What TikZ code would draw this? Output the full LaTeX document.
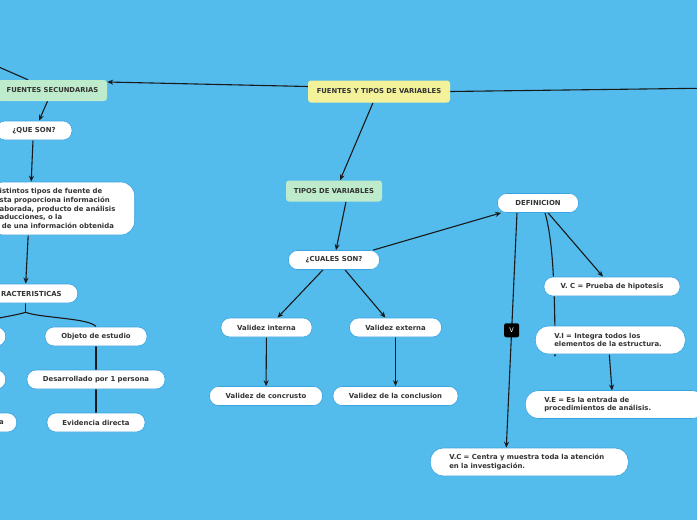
\documentclass[tikz,border=0pt]{standalone}
\usepackage{fontspec}
\setmainfont{DejaVu Sans}
\usetikzlibrary{arrows.meta,positioning}
\definecolor{sky}{HTML}{53BCEC}
\definecolor{rim}{HTML}{3AA3E2}
\definecolor{ink}{HTML}{333333}
\definecolor{lemon}{HTML}{F4F19B}
\definecolor{mint}{HTML}{BDEBCB}
\pgfdeclarelayer{bg}
\pgfdeclarelayer{edges}
\pgfsetlayers{bg,edges,main}

\tikzset{
  pill/.style={draw=rim, line width=0.6pt, fill=white, rounded corners=9pt,
    minimum height=19pt, inner xsep=7pt, text=ink,
    font=\fontsize{6.9}{8.8}\selectfont\bfseries},
  wide/.style={pill, rounded corners=13pt, minimum height=28pt, align=left,
    anchor=west, inner xsep=19pt},
  title/.style={fill=lemon, rounded corners=3pt, minimum height=22pt, text=ink,
    inner xsep=5pt, font=\fontsize{6.8}{8}\selectfont\bfseries},
  link/.style={line width=1.1pt, draw=black!90},
  vtag/.style={fill=black, rounded corners=2pt, minimum width=15pt,
    minimum height=14pt, inner sep=0pt, text=white, font=\fontsize{6.5}{8}\selectfont},
}

\begin{document}
\begin{tikzpicture}[x=1pt,y=-1pt,>={Stealth[length=6pt,width=5pt]}]

        \begin{pgfonlayer}{bg}
        \fill[sky] (0,0) rectangle (697,520);
        \end{pgfonlayer}
        \useasboundingbox (0,0) rectangle (697,520);

        % centre
        \node[title, minimum width=142] (ftv) at (379,91.5) {FUENTES Y TIPOS DE VARIABLES};
        \coordinate (east) at (720,88);
        \coordinate (prim) at (-40,50);

        % left side
        \node[title, fill=mint, minimum width=109, minimum height=21] (fs) at (52.5,90.5) {FUENTES SECUNDARIAS};
        \node[pill, minimum width=76] (que) at (34,130.5) {¿QUE SON?};
        \node[pill, anchor=east, text width=125, inner xsep=10, align=left,
              minimum height=53, rounded corners=14pt] (texto) at (135,208.5)
              {istintos tipos de fuente de\\sta proporciona información\\aborada, producto de análisis\\aducciones, o la\\\ de una información obtenida};
        \node[pill, anchor=east, text width=72, inner xsep=16, align=right] (car) at (78,293.5) {RACTERISTICAS};
        \node[pill, anchor=east, minimum width=80] (lc1) at (6,336.5) {};
        \node[pill, anchor=east, minimum width=80] (lc2) at (6,379.5) {};
        \node[pill, anchor=east, text width=60, inner xsep=13, align=right] (lc3) at (17,422.5) {a};
        \node[pill, minimum width=102] (obj) at (96,336.5) {Objeto de estudio};
        \node[pill, minimum width=138] (des) at (96,379.5) {Desarrollado por 1 persona};
        \node[pill, minimum width=98] (evi) at (96,422.5) {Evidencia directa};

        % middle
        \node[title, fill=mint, minimum width=96, minimum height=21] (tdv) at (334,191) {TIPOS DE VARIABLES};
        \node[pill, minimum width=91] (cuales) at (334,260) {¿CUALES SON?};
        \node[pill, minimum width=91] (vint) at (266.5,327.5) {Validez interna};
        \node[pill, minimum width=92] (vext) at (395.5,327.5) {Validez externa};
        \node[pill, minimum width=113] (vcon) at (266,396) {Validez de concrusto};
        \node[pill, minimum width=125] (vcl) at (395.5,396) {Validez de la conclusion};

        % right side
        \node[pill, minimum width=81] (def) at (538,203) {DEFINICION};
        \node[pill, minimum width=136] (vcp) at (612,286.5) {V. C = Prueba de hipotesis};
        \node[wide, text width=112] (vi) at (535,340) {V.I = Integra todos los\\elementos de la estructura.};
        \node[wide, text width=142] (ve) at (525,404.5) {V.E = Es la entrada de\\procedimientos de análisis.};
        \node[wide, text width=160] (vcc) at (430,462) {V.C = Centra y muestra toda la atención\\en la investigación.};
        \coordinate (viend) at (555,357);

        \begin{pgfonlayer}{edges}
        \draw[link] (ftv.east) -- (east);
        \draw[link,->] ([yshift=5]ftv.west) -- ([yshift=8.5]fs.east);
        \draw[link] (fs) -- (prim);
        \draw[link,->] ([xshift=-5]fs.south) -- ([xshift=5]que.north);
        \draw[link,->] ([xshift=-1]que.south) -- ([xshift=-31]texto.north);
        \draw[link,->] ([xshift=-34]texto.south) -- (car.north);
        \draw[link] (car.south) -- ++(0,9) coordinate (fork);
        \draw[link] (fork) .. controls (40,318) and (90,318) .. (obj.north);
        \draw[link] (fork) .. controls (10,317) and (-20,320) .. (lc1.north);
        \draw[link] (obj) -- (des);
        \draw[link] (des) -- (evi);

        \draw[link,->] ([xshift=-6]ftv.south) -- ([xshift=6]tdv.north);
        \draw[link,->] ([xshift=12]tdv.south) -- ([xshift=2]cuales.north);
        \draw[link,->] ([xshift=-7]cuales.north east) -- ([xshift=4]def.south west);
        \draw[link,->] ([xshift=-11]cuales.south) -- ([xshift=11]vint.north);
        \draw[link,->] ([xshift=11]cuales.south) -- ([xshift=-10]vext.north);
        \draw[link,->] (vint) -- (vcon);
        \draw[link,->] (vext) -- (vcl);

        \draw[link,->] ([xshift=10]def.south) -- ([xshift=-9]vcp.north);
        \draw[link,->] ([xshift=7]def.south) .. controls (553,240) and (555,290) .. (viend);
        \draw[link,->] ([xshift=-1]vi.south) -- (612,390.5);
        \draw[link,->] ([xshift=-21]def.south) -- node[vtag] {V} ([xshift=-23]vcc.north);
        \end{pgfonlayer}

    \end{tikzpicture}
\end{document}
